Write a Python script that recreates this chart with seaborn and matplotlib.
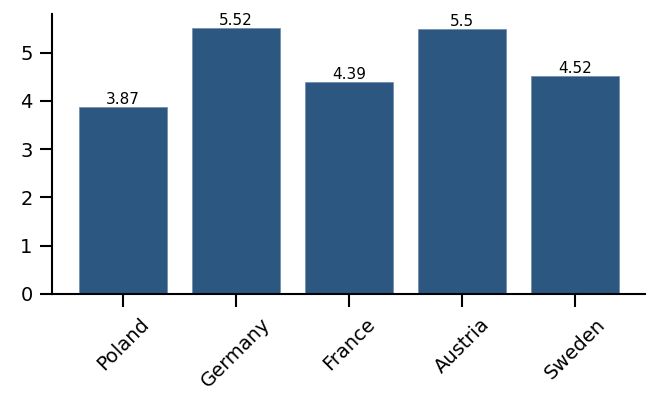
import matplotlib
matplotlib.use("Agg")
import matplotlib.pyplot as plt
import seaborn as sns
import pandas as pd

countries = ["Poland", "Germany", "France", "Austria", "Sweden"]
values = [3.87, 5.52, 4.39, 5.5, 4.52]

sns.set_style("ticks")
plt.rcParams['font.family'] = ['DejaVu Sans']
plt.rcParams['text.color'] = 'black'
plt.rcParams['xtick.color'] = 'black'
plt.rcParams['ytick.color'] = 'black'

df = pd.DataFrame({"country": countries, "value": values})

fig = plt.figure(figsize=(6.51, 3.94), dpi=100)
ax = fig.add_axes([0.08, 0.254, 0.911, 0.71])
sns.barplot(data=df, x="country", y="value", color="#2b5781", saturation=1,
            width=0.78, edgecolor="#6b8cad", linewidth=0.5, ax=ax)
ax.set_xlim(-0.63, 4.62)
ax.set_ylim(0, 5.8)
ax.set_xlabel("")
ax.set_ylabel("")
for i, v in enumerate(values):
    ax.text(i, v, f"{v:g}", ha="center", va="bottom", fontsize=11, color="black")
ax.set_yticks([0, 1, 2, 3, 4, 5])
ax.tick_params(axis="both", labelsize=14, length=9, width=1.5, color="black",
               labelcolor="black")
ax.tick_params(axis="x", pad=6)
ax.tick_params(axis="y", pad=5)
plt.setp(ax.get_xticklabels(), rotation=45, ha="center")
for s in ["left", "bottom"]:
    ax.spines[s].set_linewidth(1.5)
    ax.spines[s].set_color("black")
sns.despine(ax=ax)
fig.savefig("out.png", dpi=100)
